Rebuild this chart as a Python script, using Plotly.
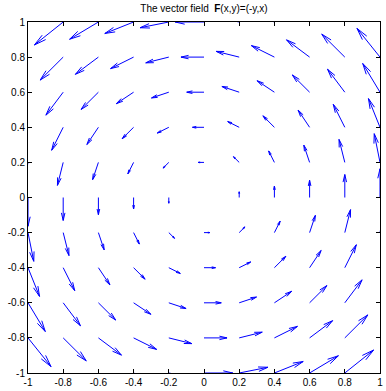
import numpy as np
import plotly.graph_objects as go

# grid of sample points
xs = [-1.0, -0.8, -0.6, -0.4, -0.2, 0.0, 0.2, 0.4, 0.6, 0.8, 1.0]
ys = [-1.0, -0.8, -0.6, -0.4, -0.2, 0.0, 0.2, 0.4, 0.6, 0.8, 1.0]
tick_vals = [-1, -0.8, -0.6, -0.4, -0.2, 0, 0.2, 0.4, 0.6, 0.8, 1]
tick_text = ["-1", "-0.8", "-0.6", "-0.4", "-0.2", "0", "0.2", "0.4", "0.6", "0.8", "1"]

X, Y = np.meshgrid(xs, ys)
U = -Y  # F(x,y) = (-y, x)
V = X

# MATLAB-style autoscale
n = len(xs)
m = len(ys)
delx = (max(xs) - min(xs)) / n
dely = (max(ys) - min(ys)) / m
del2 = delx ** 2 + dely ** 2
maxlen = np.sqrt((U ** 2 + V ** 2) / del2).max()
scale = 0.9 / maxlen
Us = U * scale
Vs = V * scale

alpha, beta = 0.33, 0.23
lx, ly = [], []
hx, hy = [], []
for x0, y0, u, v in zip(X.ravel(), Y.ravel(), Us.ravel(), Vs.ravel()):
    lx += [x0, x0 + u, None]
    ly += [y0, y0 + v, None]
    if u == 0 and v == 0:
        continue
    hx += [x0 + u - alpha * (u + beta * v), x0 + u, x0 + u - alpha * (u - beta * v), None]
    hy += [y0 + v - alpha * (v - beta * u), y0 + v, y0 + v - alpha * (v + beta * u), None]

fig = go.Figure()
fig.add_trace(go.Scatter(x=lx, y=ly, mode="lines", line=dict(color="#0000ff", width=1),
                         hoverinfo="skip", showlegend=False))
fig.add_trace(go.Scatter(x=hx, y=hy, mode="lines", line=dict(color="#0000ff", width=1),
                         hoverinfo="skip", showlegend=False))

axis_common = dict(range=[-1, 1], tickvals=tick_vals, ticktext=tick_text, ticks="inside",
                   ticklen=4, tickcolor="black", showline=True, linecolor="black",
                   linewidth=1, mirror="ticks", showgrid=False, zeroline=False,
                   automargin=False,
                   tickfont=dict(family="Liberation Sans, Arial", size=10, color="black"))

fig.update_layout(
    width=386, height=391,
    margin=dict(l=28, r=6, t=22, b=18),
    paper_bgcolor="white", plot_bgcolor="white",
    title=dict(text="The vector field  <b>F</b>(x,y)=(-y,x)", x=0.5, xanchor="center",
               xref="paper", y=1 - 8 / 391, yanchor="middle",
               font=dict(family="Liberation Sans, Arial", size=10, color="black")),
    xaxis=axis_common,
    yaxis=axis_common,
)

fig.write_html("out.html", config={"displayModeBar": False},
               post_script="document.body.style.margin='0';document.body.style.overflow='hidden';")
